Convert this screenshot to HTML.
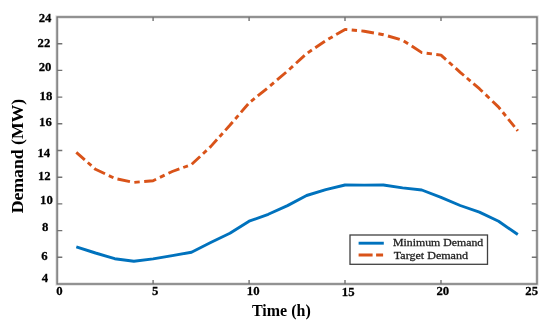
<!DOCTYPE html>
<html><head><meta charset="utf-8"><title>Demand chart</title>
<style>
html,body{margin:0;padding:0;background:#fff;}
svg{display:block;}
.wrap{width:550px;height:323px;}
.tk{font-family:"Liberation Serif",serif;font-weight:bold;fill:#000;stroke:#000;stroke-width:0.25px;}
.al{font-family:"Liberation Serif",serif;font-weight:bold;fill:#000;}
.lg{font-family:"Liberation Serif",serif;fill:#222;stroke:#222;stroke-width:0.3px;}
</style></head><body>
<div class="wrap"><svg width="550" height="323" viewBox="0 0 550 323">
<rect width="550" height="323" fill="#fff"/>
<rect x="57.1" y="17.0" width="479.9" height="267.0" fill="none" stroke="#dedede" stroke-width="3.4"/>
<rect x="57.1" y="17.0" width="479.9" height="267.0" fill="none" stroke="#727272" stroke-width="1.4"/>
<path d="M153.1 284.0V280.0M153.1 17.0V21.0M249.1 284.0V280.0M249.1 17.0V21.0M345.0 284.0V280.0M345.0 17.0V21.0M441.0 284.0V280.0M441.0 17.0V21.0M57.1 257.3H62.3M537.0 257.3H531.8M57.1 230.6H62.3M537.0 230.6H531.8M57.1 203.9H62.3M537.0 203.9H531.8M57.1 177.2H62.3M537.0 177.2H531.8M57.1 150.5H62.3M537.0 150.5H531.8M57.1 123.8H62.3M537.0 123.8H531.8M57.1 97.1H62.3M537.0 97.1H531.8M57.1 70.4H62.3M537.0 70.4H531.8M57.1 43.7H62.3M537.0 43.7H531.8" stroke="#727272" stroke-width="1.4" fill="none"/>
<polyline points="76.3,246.8 95.5,253.0 114.7,258.7 133.9,261.2 153.1,258.9 172.3,255.6 191.5,252.2 210.7,242.5 229.9,233.3 249.1,221.2 268.3,214.3 287.5,205.6 306.6,195.5 325.8,189.7 345.0,185.0 364.2,185.1 383.4,185.0 402.6,187.9 421.8,190.0 441.0,197.3 460.2,205.5 479.4,212.1 498.6,221.3 517.8,234.5" fill="none" stroke="#0072BD" stroke-width="2.9" stroke-linejoin="round"/>
<path d="M76.30 152.40L84.80 159.88M87.78 162.51L91.40 165.70M94.38 168.32L95.49 169.30L105.01 173.81M108.82 175.62L113.44 177.81M117.47 178.98L129.94 181.58M134.33 182.36L139.73 181.88M144.19 181.49L153.08 180.70L156.07 179.27M159.94 177.41L164.63 175.16M168.51 173.31L172.28 171.50L179.38 168.91M183.25 167.50L187.94 165.79M191.74 164.25L200.10 156.45M203.04 153.72L206.60 150.40M209.53 147.66L210.67 146.60L216.99 139.58M219.58 136.72L222.71 133.24M225.29 130.37L229.86 125.30L232.71 121.98M235.27 118.99L238.37 115.37M240.93 112.38L248.15 103.96M251.00 101.34L254.68 98.39M257.72 95.95L266.93 88.57M270.11 85.91L273.93 82.65M277.08 79.96L286.11 72.25M289.22 69.49L292.95 66.08M296.03 63.28L304.63 55.44M307.77 52.84L311.87 50.06M315.25 47.77L324.89 41.25M328.37 39.12L332.65 36.63M336.18 34.57L345.04 29.40L347.30 29.61M351.69 30.02L357.00 30.52M361.38 30.93L364.24 31.20L373.94 32.97M378.34 33.77L383.43 34.70L383.67 34.77M387.97 36.00L399.75 39.38M403.73 40.91L408.11 43.74M411.72 46.07L421.82 52.60L422.29 52.66M426.64 53.23L431.92 53.91M436.27 54.48L441.02 55.10L446.00 59.56M449.00 62.25L452.63 65.51M455.64 68.20L460.22 72.30L463.95 75.49M466.90 78.01L470.48 81.07M473.43 83.59L479.41 88.70L482.54 91.70M485.64 94.67L489.39 98.26M492.48 101.23L498.61 107.10L500.32 109.22M502.80 112.28L505.80 115.98M508.28 119.04L514.58 126.82M516.79 129.55L517.80 130.80" fill="none" stroke="#D95319" stroke-width="2.9" stroke-linejoin="round"/>
<rect x="350" y="235" width="137.5" height="29.3" fill="#fff" stroke="#404040" stroke-width="1.3"/>
<path d="M358.6 243.2H383.8" stroke="#0072BD" stroke-width="2.9"/>
<path d="M358.6 255H383.8" stroke="#D95319" stroke-width="2.9" stroke-dasharray="14 3.5 7 3.5"/>
<text class="tk" transform="translate(45.05 22.10) scale(1.03 1.06)" font-size="12.4" text-anchor="middle">24</text>
<text class="tk" transform="translate(44.00 46.80) scale(1.03 1.06)" font-size="12.4" text-anchor="middle">22</text>
<text class="tk" transform="translate(45.05 71.35) scale(1.03 1.06)" font-size="12.4" text-anchor="middle">20</text>
<text class="tk" transform="translate(45.95 99.95) scale(1.03 1.06)" font-size="12.4" text-anchor="middle">18</text>
<text class="tk" transform="translate(45.50 125.90) scale(1.03 1.06)" font-size="12.4" text-anchor="middle">16</text>
<text class="tk" transform="translate(43.85 156.75) scale(1.03 1.06)" font-size="12.4" text-anchor="middle">14</text>
<text class="tk" transform="translate(44.35 180.10) scale(1.03 1.06)" font-size="12.4" text-anchor="middle">12</text>
<text class="tk" transform="translate(46.50 203.65) scale(1.03 1.06)" font-size="12.4" text-anchor="middle">10</text>
<text class="tk" transform="translate(45.10 231.10) scale(1.03 1.06)" font-size="12.4" text-anchor="middle">8</text>
<text class="tk" transform="translate(44.45 260.20) scale(1.03 1.06)" font-size="12.4" text-anchor="middle">6</text>
<text class="tk" transform="translate(45.00 282.00) scale(1.03 1.06)" font-size="12.4" text-anchor="middle">4</text>
<text class="tk" transform="translate(59.55 295.45) scale(1.03 1.06)" font-size="12.4" text-anchor="middle">0</text>
<text class="tk" transform="translate(155.15 295.05) scale(1.03 1.06)" font-size="12.4" text-anchor="middle">5</text>
<text class="tk" transform="translate(253.20 294.50) scale(1.03 1.06)" font-size="12.4" text-anchor="middle">10</text>
<text class="tk" transform="translate(348.20 295.50) scale(1.03 1.06)" font-size="12.4" text-anchor="middle">15</text>
<text class="tk" transform="translate(442.85 294.50) scale(1.03 1.06)" font-size="12.4" text-anchor="middle">20</text>
<text class="tk" transform="translate(531.65 294.90) scale(1.03 1.06)" font-size="12.4" text-anchor="middle">25</text>
<text class="al" transform="translate(281.35 316.40) scale(1.0 1.11)" font-size="16.0" text-anchor="middle">Time (h)</text>
<text class="al" transform="translate(22.50 156.05) rotate(-90) scale(1.0 0.96)" font-size="17.7" text-anchor="middle">Demand (MW)</text>
<text class="lg" transform="translate(392.95 246.00) scale(1.03 0.93)" font-size="11.5" text-anchor="start">Minimum Demand</text>
<text class="lg" transform="translate(393.75 258.65) scale(1.05 0.93)" font-size="11.5" text-anchor="start">Target Demand</text>
</svg></div>
</body></html>
